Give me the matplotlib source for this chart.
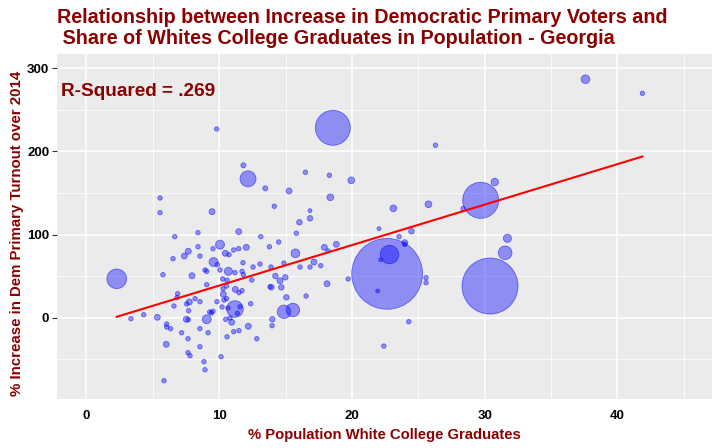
import numpy as np
import matplotlib
matplotlib.use("Agg")
import matplotlib.pyplot as plt

# ---------------- data ----------------
white_grad_pct = [
    22.65, 30.4, 29.7, 18.56, 2.28, 12.17, 22.83, 14.88, 15.55, 31.54,
    31.71, 37.59, 41.88, 30.76, 11.19, 10.06, 9.58, 9.06, 10.69, 15.74,
    9.81, 11.82, 13.47, 5.54, 5.54, 9.46, 8.40, 11.47,
    6.65, 13.13, 13.78, 8.40, 12.04, 7.67, 7.37, 8.55, 9.53, 10.46,
    10.74, 11.09, 11.47, 6.52, 9.86, 11.79, 13.07, 12.55, 8.93, 9.06,
    10.06, 11.19, 11.72, 11.82, 5.76, 7.95, 10.26, 10.59, 12.45, 9.06,
    10.56, 11.21, 10.29, 11.49, 11.72, 10.31, 6.87, 6.82, 8.18, 8.55,
    7.75, 7.55, 9.83, 10.36, 10.56, 12.37, 6.59, 10.21, 10.66, 11.36,
    11.57, 7.70, 9.28, 9.41, 9.53, 3.35, 4.31, 5.34, 7.52, 7.67,
    10.49, 10.81, 10.94, 6.04, 6.04, 6.34, 8.55, 7.17, 9.16, 11.09,
    11.49, 12.19, 10.59, 12.83, 7.65, 6.01, 8.55, 7.65, 7.80, 10.14,
    8.85, 8.93, 5.84, 13.83,
    26.29, 16.49, 18.30, 19.95, 15.26, 18.37, 14.15, 16.84, 16.84, 16.04,
    15.81, 23.12, 25.76, 22.04, 24.48, 28.37,
    14.48, 17.92, 18.82, 18.20, 14.88, 13.90, 16.09, 16.84, 17.14, 17.65,
    14.23, 14.58, 14.98, 13.93, 14.68, 18.12, 19.71, 15.06, 16.54, 14.0,
    13.98, 21.94, 22.17, 24.28, 22.40, 23.55, 23.98, 23.98, 25.58, 25.58,
]

dem_increase_pct = [
    52.8, 38.1, 141.3, 228.5, 46.8, 167.1, 76.0, 7.1, 9.3, 78.1,
    95.5, 286.9, 270.0, 163.3, 10.5, 87.9, 67.0, -1.9, 55.8, 77.5,
    227.1, 183.4, 155.7, 144.0, 126.4, 127.6, 102.3, 103.5,
    97.5, 97.5, 85.4, 85.4, 84.7, 79.9, 74.2, 74.2, 83.0, 77.5,
    75.8, 81.5, 83.0, 71.0, 63.8, 66.2, 64.6, 61.0, 57.4, 55.8,
    57.4, 54.2, 55.8, 51.7, 51.7, 50.5, 46.6, 45.0, 45.4, 39.7,
    38.1, 34.1, 34.9, 30.1, 32.5, 28.2, 28.9, 24.1, 22.9, 19.3,
    18.9, 16.5, 19.3, 21.3, 22.9, 16.8, 14.1, 12.9, 11.7, 5.3,
    13.2, 8.4, 6.9, 5.7, 7.7, -1.2, 3.6, 0.5, -1.9, -2.4,
    -1.9, -0.4, -5.5, -7.6, -11.2, -13.2, -13.2, -18.1, -18.1, -16.8,
    -15.6, -10.3, -22.9, -25.3, -25.3, -32.0, -34.9, -42.1, -45.7, -46.9,
    -52.9, -62.6, -75.8, 37.3,
    207.5, 175.0, 171.4, 165.3, 152.5, 144.9, 134.1, 128.8, 119.6, 114.8,
    101.6, 131.6, 136.5, 107.1, 104.0, 131.2,
    91.1, 84.7, 88.3, 80.3, 65.8, 61.0, 61.0, 61.0, 67.0, 62.6,
    50.2, 44.5, 48.6, 36.6, 36.6, 40.9, 46.6, 24.5, 26.1, -1.9,
    -9.6, 32.1, 69.8, -4.8, -34.1, 97.5, 90.3, 88.3, 48.1, 42.1,
]

population_k = [
    1000, 626, 259, 244, 77, 51, 68, 36, 36, 37,
    13, 15, 4, 11, 55, 16, 16, 16, 13, 15,
    4, 5, 5, 4, 4, 7, 4, 7,
    4, 4, 4, 4, 7, 7, 7, 4, 4, 7,
    4, 4, 4, 4, 4, 4, 4, 4, 4, 4,
    4, 4, 4, 4, 4, 7, 4, 4, 4, 4,
    4, 7, 4, 4, 4, 7, 4, 4, 4, 4,
    7, 4, 4, 4, 4, 4, 4, 4, 4, 4,
    4, 4, 4, 4, 4, 4, 4, 7, 7, 4,
    4, 4, 7, 4, 4, 4, 4, 4, 4, 4,
    4, 7, 4, 4, 4, 7, 4, 4, 4, 4,
    4, 4, 4, 4,
    4, 4, 4, 9, 7, 9, 4, 3, 6, 6,
    4, 9, 9, 3, 6, 4,
    4, 7, 7, 4, 4, 4, 4, 4, 7, 4,
    6, 7, 6, 6, 6, 7, 4, 6, 4, 6,
    4, 3, 3, 4, 4, 4, 7, 4, 4, 4,
]

# linear fit
fit_slope = 4.87
fit_intercept = -10.0
r_squared_label = "R-Squared = .269"

x_ticks = [0, 10, 20, 30, 40]
y_ticks = [0, 100, 200, 300]

# ---------------- styling ----------------
DARKRED = "#8B0000"
FONT = ["Liberation Sans", "DejaVu Sans"]
plt.rcParams["font.family"] = FONT

W, H, DPI = 720, 448, 100
fig = plt.figure(figsize=(W / DPI, H / DPI), dpi=DPI)
left, right, top, bottom = 57, 711.7, 54, 399
ax = fig.add_axes([left / W, 1 - bottom / H, (right - left) / W, (bottom - top) / H])
ax.set_facecolor("#EBEBEB")
for s in ax.spines.values():
    s.set_visible(False)

ax.set_xlim(-2.22, 47.1)
ax.set_ylim(-97.8, 317.3)
ax.set_xticks(x_ticks)
ax.set_yticks(y_ticks)
ax.set_xticks(np.arange(5, 50, 10), minor=True)
ax.set_yticks([-50, 50, 150, 250], minor=True)
ax.grid(which="major", color="white", linewidth=1.1)
ax.grid(which="minor", color="white", linewidth=0.55)
ax.set_axisbelow(True)
ax.tick_params(axis="x", which="both", length=0, pad=8)
ax.tick_params(axis="y", which="major", length=3.5, width=0.8, color="#333333", pad=2)
ax.tick_params(axis="y", which="minor", length=0)
for lab in ax.get_xticklabels() + ax.get_yticklabels():
    lab.set_fontweight("bold")
    lab.set_fontsize(9.5)
    lab.set_color("black")

# bubbles
x = np.array(white_grad_pct)
y = np.array(dem_increase_pct)
pop = np.array(population_k, dtype=float)
r_px = 35.4 * np.sqrt(pop / 1000.0)
sizes = (2 * r_px * 72.0 / DPI) ** 2
order = np.argsort(-pop)
ax.scatter(x[order], y[order], s=sizes[order], facecolor=(0, 0, 1, 0.40),
           edgecolor=(0, 0, 1, 0.5), linewidth=0.6, zorder=3)

# regression line
xs = np.linspace(x.min(), x.max(), 50)
ax.plot(xs, fit_intercept + fit_slope * xs, color="red", linewidth=1.5, zorder=4)

# annotation
ax.text(-1.95, 272, r_squared_label, color=DARKRED, fontweight="bold",
        fontsize=13.7, va="center", ha="left", zorder=5)

# titles
fig.text(left / W, 1 - 8 / H,
         "Relationship between Increase in Democratic Primary Voters and\n Share of Whites College Graduates in Population - Georgia",
         color=DARKRED, fontweight="bold", fontsize=14.2, va="top", ha="left",
         linespacing=1.15)
ax.set_xlabel("% Population White College Graduates", color=DARKRED,
              fontweight="bold", fontsize=10.7, labelpad=4)
ax.set_ylabel("% Increase in Dem Primary Turnout over 2014", color=DARKRED,
              fontweight="bold", fontsize=10.8)
ax.yaxis.set_label_coords(-0.051, 0.48)

fig.savefig("out.png", dpi=DPI)
